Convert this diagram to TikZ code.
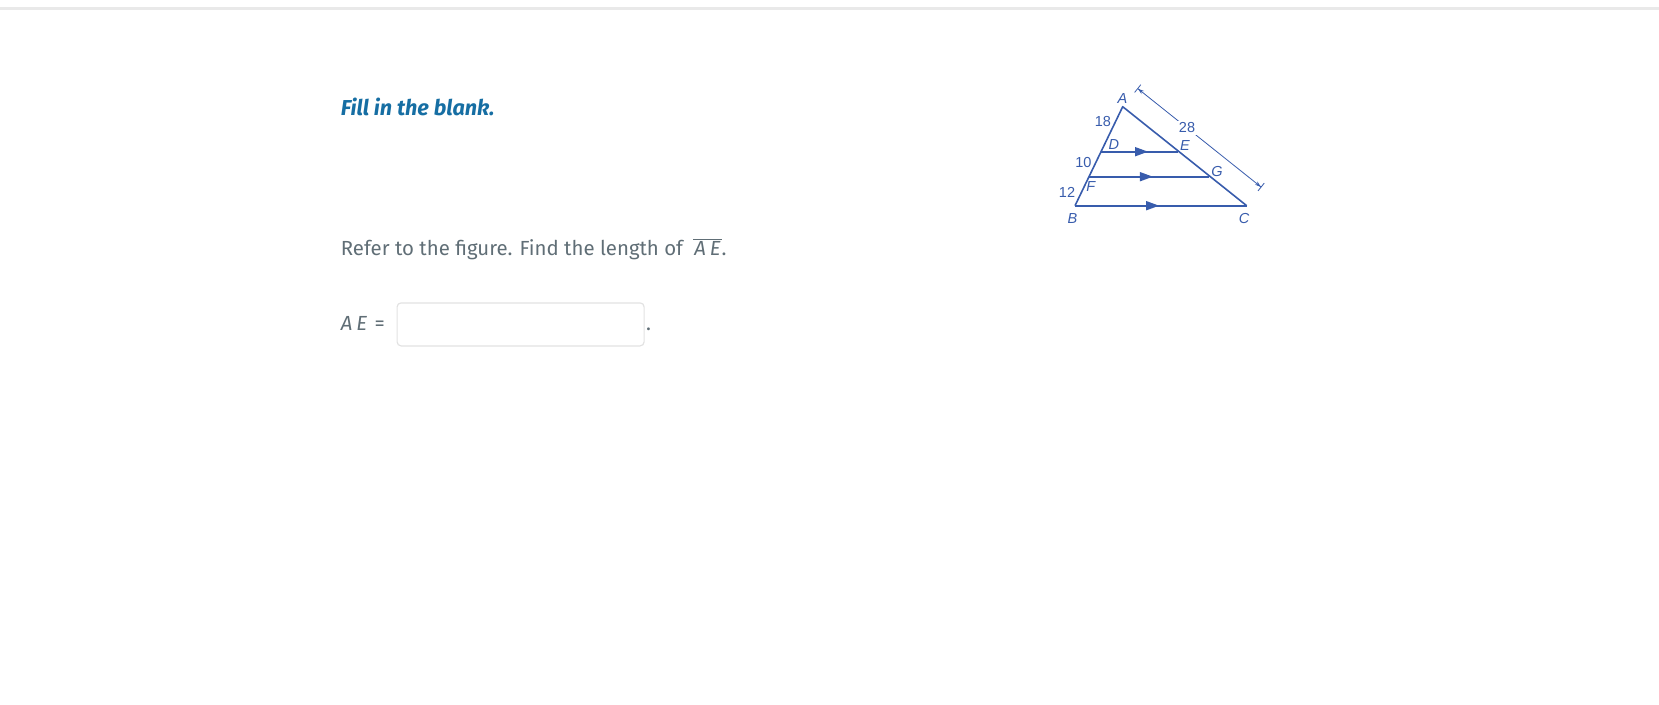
\documentclass[tikz,border=0pt]{standalone}
\usepackage{fontspec}
\setmainfont{Fira Sans}
\newfontfamily\figfont{Liberation Sans}
\usetikzlibrary{arrows.meta,decorations.markings}
\definecolor{cfig}{RGB}{56,92,172}
\definecolor{ctitle}{RGB}{22,110,163}
\definecolor{ctext}{RGB}{96,110,118}
\definecolor{cbox}{RGB}{226,226,226}
\definecolor{crule}{RGB}{233,233,233}

\begin{document}
\begin{tikzpicture}[x=1pt, y=-1pt,
    >=Stealth,
    seg/.style={cfig, line width=1.6pt},
    midarrow/.style={postaction={decorate}, decoration={markings,
        mark=at position #1 with {\arrow{Triangle[length=13pt,width=9pt]}}}},
    lbl/.style={cfig, font=\figfont\itshape\fontsize{14.5}{15}\selectfont, inner sep=0pt},
    num/.style={cfig, font=\figfont\fontsize{14.5}{15}\selectfont, inner sep=0pt},
    txt/.style={ctext, font=\fontsize{20.4}{24}\selectfont, inner sep=0pt, anchor=base west}
  ]
  \useasboundingbox (0,0) rectangle (1659,704);
  % top rule
  \fill[crule] (0,7) rectangle (1659,10);

  % question text
  \node[txt, ctitle, font=\bfseries\itshape\fontsize{21.6}{25}\selectfont] (title) at (340.7,115) {Fill in the blank.};
  \node[txt] (question) at (340.7,255) {Refer to the figure. Find the length of\hspace{0.5em}\(\overline{\mbox{\itshape\kern1pt A\kern4pt E\kern1pt}}\).};
  \node[txt] (answerlbl) at (340.7,330.7) {{\itshape A\kern4pt E}\kern2pt\ =};
  \node[draw=cbox, line width=1.2pt, rounded corners=4pt, minimum width=247pt,
        minimum height=43pt, inner sep=0pt] (answer) at (520.6,324.4) {};
  \node[txt] (dot) at (646,330.7) {.};

  % triangle
  \coordinate (A) at (1122.7,106.7);
  \coordinate (B) at (1075,205.7);
  \coordinate (C) at (1246.7,205.7);
  \coordinate (D) at (1100.7,151.7);
  \coordinate (E) at (1178.3,151.7);
  \coordinate (F) at (1089.3,176.7);
  \coordinate (G) at (1209.3,176.7);
  \draw[seg, line join=round] (B) -- (A) -- (C);
  \draw[seg, midarrow=0.61] (D) -- (E);
  \draw[seg, midarrow=0.53] (F) -- (G);
  \draw[seg, midarrow=0.49] (B) -- (C);

  % length of AC
  \coordinate (dimA) at (1137.4,88.3);
  \coordinate (dimC) at (1261.4,187.3);
  \draw[cfig, line width=0.8pt, {Bar[width=10pt]Stealth[length=6pt,width=4pt]}-{Stealth[length=6pt,width=4pt]Bar[width=10pt]}]
    (dimA) -- (dimC) node[num, pos=0.4, fill=white, inner sep=1.5pt] (len) {28};

  % labels
  \node[lbl] (lA) at (1122.5,98.8) {A};
  \node[lbl] (lB) at (1072.5,218.3) {B};
  \node[lbl] (lC) at (1244,218.3) {C};
  \node[lbl] (lD) at (1113.8,144.5) {D};
  \node[lbl] (lE) at (1185,146) {E};
  \node[lbl] (lF) at (1090.8,187) {F};
  \node[lbl] (lG) at (1217,172) {G};
  \node[num] (n18) at (1102.8,121.5) {18};
  \node[num] (n10) at (1083.3,162.5) {10};
  \node[num] (n12) at (1067,192) {12};
\end{tikzpicture}
\end{document}
